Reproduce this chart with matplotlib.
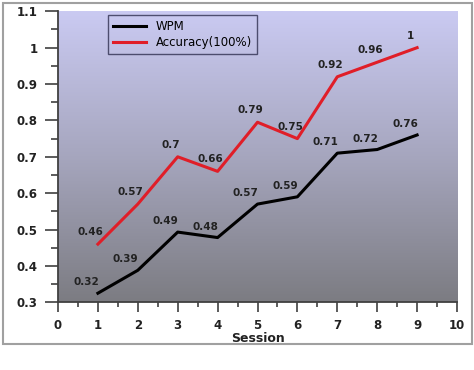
import numpy as np
import matplotlib
matplotlib.use('Agg')
import matplotlib.pyplot as plt
from matplotlib.colors import LinearSegmentedColormap
from matplotlib.patches import Rectangle

# 資料
sessions = [1, 2, 3, 4, 5, 6, 7, 8, 9]
wpm = [0.325, 0.388, 0.493, 0.478, 0.57, 0.59, 0.71, 0.72, 0.76]
wpm_labels = ['0.32', '0.39', '0.49', '0.48', '0.57', '0.59', '0.71', '0.72', '0.76']
accuracy = [0.46, 0.57, 0.70, 0.66, 0.795, 0.75, 0.92, 0.96, 1.0]
acc_labels = ['0.46', '0.57', '0.7', '0.66', '0.79', '0.75', '0.92', '0.96', '1']

plt.rcParams['font.family'] = ['DejaVu Sans']

fig = plt.figure(figsize=(4.74, 3.70), dpi=100)
fig.patch.set_facecolor('white')
ax = fig.add_axes([58 / 474, 1 - 302.3 / 370, 399 / 474, 291 / 370])

# 背景漸層 (上淡紫 -> 下灰)
cmap = LinearSegmentedColormap.from_list('bg', ['#7c7c82', '#a6a6be', '#cacaf2'])
grad = np.linspace(0, 1, 256).reshape(-1, 1)
ax.imshow(grad, cmap=cmap, aspect='auto', origin='lower',
          extent=[0, 10, 0.3, 1.1], zorder=0)

ax.plot(sessions, wpm, color='black', lw=2.2, label='WPM', zorder=3)
ax.plot(sessions, accuracy, color='#e01e28', lw=2.2, label='Accuracy(100%)', zorder=3)

for x, y, t in zip(sessions, wpm, wpm_labels):
    ax.annotate(t, (x, y), xytext=(-12, 11), textcoords='offset pixels',
                ha='center', va='center', fontsize=7.5, fontweight='bold', color='#222222')
for x, y, t in zip(sessions, accuracy, acc_labels):
    ax.annotate(t, (x, y), xytext=(-7, 12), textcoords='offset pixels',
                ha='center', va='center', fontsize=7.5, fontweight='bold', color='#222222')

ax.set_xlim(0, 10)
ax.set_ylim(0.3, 1.1)
ax.set_xticks(np.arange(0, 11, 1))
ax.set_xticks(np.arange(0.5, 10, 1), minor=True)
ax.set_yticks(np.round(np.arange(0.3, 1.11, 0.1), 1))
ax.set_yticklabels(['0.3', '0.4', '0.5', '0.6', '0.7', '0.8', '0.9', '1', '1.1'])
ax.set_yticks(np.arange(0.35, 1.1, 0.1), minor=True)

for s in ['top', 'right']:
    ax.spines[s].set_visible(False)
for s in ['left', 'bottom']:
    ax.spines[s].set_color('#404040')
    ax.spines[s].set_linewidth(1.3)

ax.tick_params(axis='y', which='major', length=9.5, width=1.2, color='#404040', pad=5)
ax.tick_params(axis='y', which='minor', length=5, width=1.2, color='#404040')
ax.tick_params(axis='x', which='major', length=7, width=1.2, color='#404040', pad=5)
ax.tick_params(axis='x', which='minor', length=3.5, width=1.2, color='#404040')
for lab in ax.get_xticklabels() + ax.get_yticklabels():
    lab.set_fontweight('bold')
    lab.set_fontsize(8.5)
    lab.set_color('#222222')

ax.set_xlabel('Session', fontsize=9, fontweight='bold', color='#222222', labelpad=0)

leg = ax.legend(loc='upper left', bbox_to_anchor=(0.125, 0.988), borderaxespad=0,
                fontsize=8.5, handlelength=2.8, frameon=True, fancybox=False,
                borderpad=0.45, labelspacing=0.25)
leg.get_frame().set_facecolor('none')
leg.get_frame().set_edgecolor('#303050')
leg.get_frame().set_linewidth(1.0)

# 外框
fig.patches.append(Rectangle((2.5 / 474, 1 - 344 / 370), 469.5 / 474, 341 / 370,
                             transform=fig.transFigure, fill=False,
                             edgecolor='#a0a0a0', lw=1.5))

fig.savefig('out.png', dpi=100)
